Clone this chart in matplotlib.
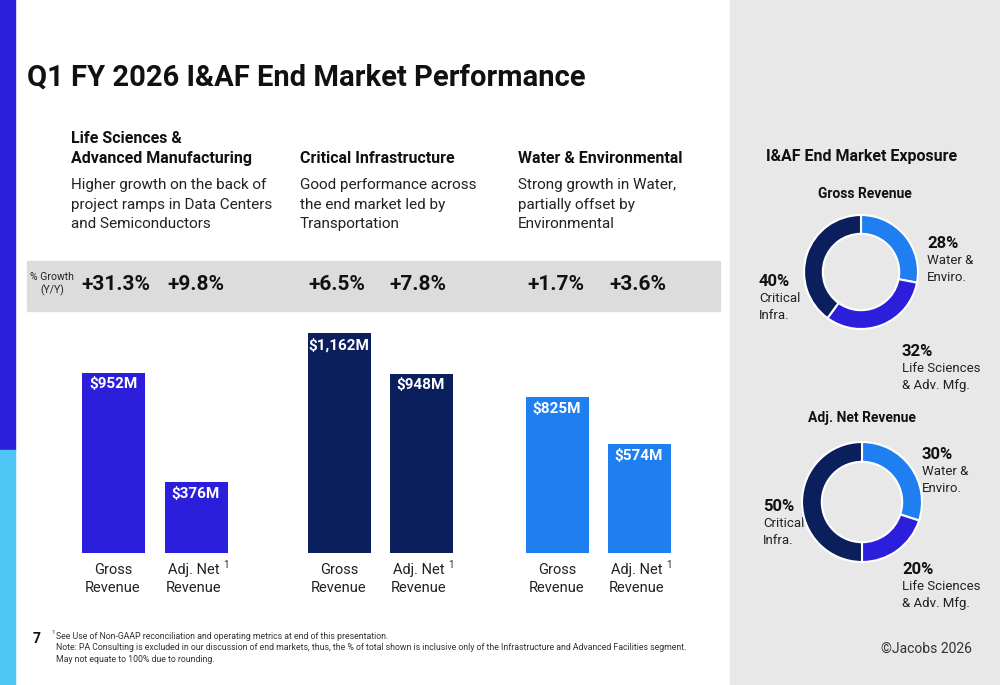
import matplotlib
matplotlib.use("Agg")
import matplotlib.pyplot as plt
from matplotlib.patches import Rectangle

plt.rcParams['font.family'] = ['Roboto', 'DejaVu Sans']

segments = ["Life Sciences &\nAdvanced Manufacturing", "Critical Infrastructure", "Water & Environmental"]
descs = ["Higher growth on the back of\nproject ramps in Data Centers\nand Semiconductors",
         "Good performance across\nthe end market led by\nTransportation",
         "Strong growth in Water,\npartially offset by\nEnvironmental"]
growth = ["+31.3%", "+9.8%", "+6.5%", "+7.8%", "+1.7%", "+3.6%"]
values = [952, 376, 1162, 948, 825, 574]
value_labels = ["$952M", "$376M", "$1,162M", "$948M", "$825M", "$574M"]
bar_cats = ["Gross\nRevenue", "Adj. Net\nRevenue"] * 3
gross_share = [28, 32, 40]   # Water, LS, CI
adj_share = [30, 20, 50]

C_LS, C_CI, C_WE = "#2b1fdc", "#0b1f5c", "#1f7ff0"
bar_colors = [C_LS, C_LS, C_CI, C_CI, C_WE, C_WE]

W, H = 1000, 685
fig = plt.figure(figsize=(10, 6.85), dpi=100)
bg = fig.add_axes([0, 0, 1, 1]); bg.set_xlim(0, W); bg.set_ylim(H, 0); bg.axis('off')
bg.add_patch(Rectangle((730, 0), 270, H, color="#e8e8e8", zorder=0))
bg.add_patch(Rectangle((27, 261), 693, 50, color="#dcdcdc", zorder=0))
bg.add_patch(Rectangle((0, 0), 15, 450, color="#2b1fdc"))
bg.add_patch(Rectangle((0, 450), 15, 235, color="#4fc6f5"))

bg.text(27, 78, "Q1 FY 2026 I&AF End Market Performance", fontsize=21, fontweight='bold', va='center', color="#111")
for x, s, d in zip([71, 300, 518], segments, descs):
    bg.text(x, 166, s, fontsize=11.5, fontweight='bold', va='bottom', color="#111", linespacing=1.45)
    bg.text(x, 178, d, fontsize=11, va='top', color="#222", linespacing=1.5)
bg.text(52, 284, "% Growth\n(Y/Y)", fontsize=7.5, ha='center', va='center', color="#222")
for x, g in zip([116, 196, 337, 418, 556, 638], growth):
    bg.text(x, 284, g, fontsize=15, fontweight='bold', ha='center', va='center', color="#111")

xs = [113, 196, 339, 421, 557, 639]
ax = fig.add_axes([0, 1 - 553 / H, 1, 220 / H])
ax.set_xlim(0, W); ax.set_ylim(0, 1162); ax.axis('off')
bars = ax.bar(xs, values, width=63, color=bar_colors)
for b, lab in zip(bars, value_labels):
    ax.text(b.get_x() + b.get_width() / 2, b.get_height() - 25, lab, ha='center', va='top',
            color='white', fontsize=11, fontweight='bold')
for x, c in zip(xs, bar_cats):
    if c.startswith("Adj"):
        bg.text(x - 2, 579, "Adj. Net\nRevenue", fontsize=10.5, ha='center', va='center', color="#222", linespacing=1.4)
        bg.text(x + 27, 565, "1", fontsize=7, ha='left', va='center', color="#222")
    else:
        bg.text(x, 579, c, fontsize=10.5, ha='center', va='center', color="#222", linespacing=1.4)

bg.text(862, 156, "I&AF End Market Exposure", fontsize=11.5, fontweight='bold', ha='center', va='center', color="#111")
bg.text(865, 194, "Gross Revenue", fontsize=10, fontweight='bold', ha='center', va='center', color="#111")
bg.text(862, 418, "Adj. Net Revenue", fontsize=10, fontweight='bold', ha='center', va='center', color="#111")

def donut(cx, cy, r, vals):
    a = fig.add_axes([(cx - r) / W, 1 - (cy + r) / H, 2 * r / W, 2 * r / H])
    a.pie(vals, colors=[C_WE, C_LS, C_CI], startangle=90, counterclock=False, radius=1,
          wedgeprops=dict(width=0.33, edgecolor='white', linewidth=1.5))
    a.set_xlim(-1, 1); a.set_ylim(-1, 1)
    a.set_aspect('equal'); a.axis('off')

donut(861, 272, 57, gross_share)
donut(862, 502, 60, adj_share)

def lbl(x, y, pct, txt, ha='left'):
    bg.text(x, y, pct, fontsize=12, fontweight='bold', ha=ha, va='center', color="#111")
    bg.text(x, y + 11, txt, fontsize=9.5, ha=ha, va='top', color="#222", linespacing=1.35)

lbl(927, 243, f"{gross_share[0]}%", "Water &\nEnviro.")
lbl(759, 281, f"{gross_share[2]}%", "Critical\nInfra.")
lbl(902, 351, f"{gross_share[1]}%", "Life Sciences\n& Adv. Mfg.")
lbl(922, 454, f"{adj_share[0]}%", "Water &\nEnviro.")
lbl(763, 506, f"{adj_share[2]}%", "Critical\nInfra.")
lbl(902, 569, f"{adj_share[1]}%", "Life Sciences\n& Adv. Mfg.")

bg.text(33, 639, "7", fontsize=10, fontweight='bold', va='center', color="#111")
bg.text(52, 630, "1", fontsize=4.5, va='top', color="#333")
bg.text(56, 632, "See Use of Non-GAAP reconciliation and operating metrics at end of this presentation.\n"
        "Note: PA Consulting is excluded in our discussion of end markets, thus, the % of total shown is inclusive only of the Infrastructure and Advanced Facilities segment.\n"
        "May not equate to 100% due to rounding.", fontsize=6.3, va='top', color="#333", linespacing=1.35)
bg.text(972, 649, "©Jacobs 2026", fontsize=10, ha='right', va='center', color="#333")

fig.savefig("out.png", dpi=100)
